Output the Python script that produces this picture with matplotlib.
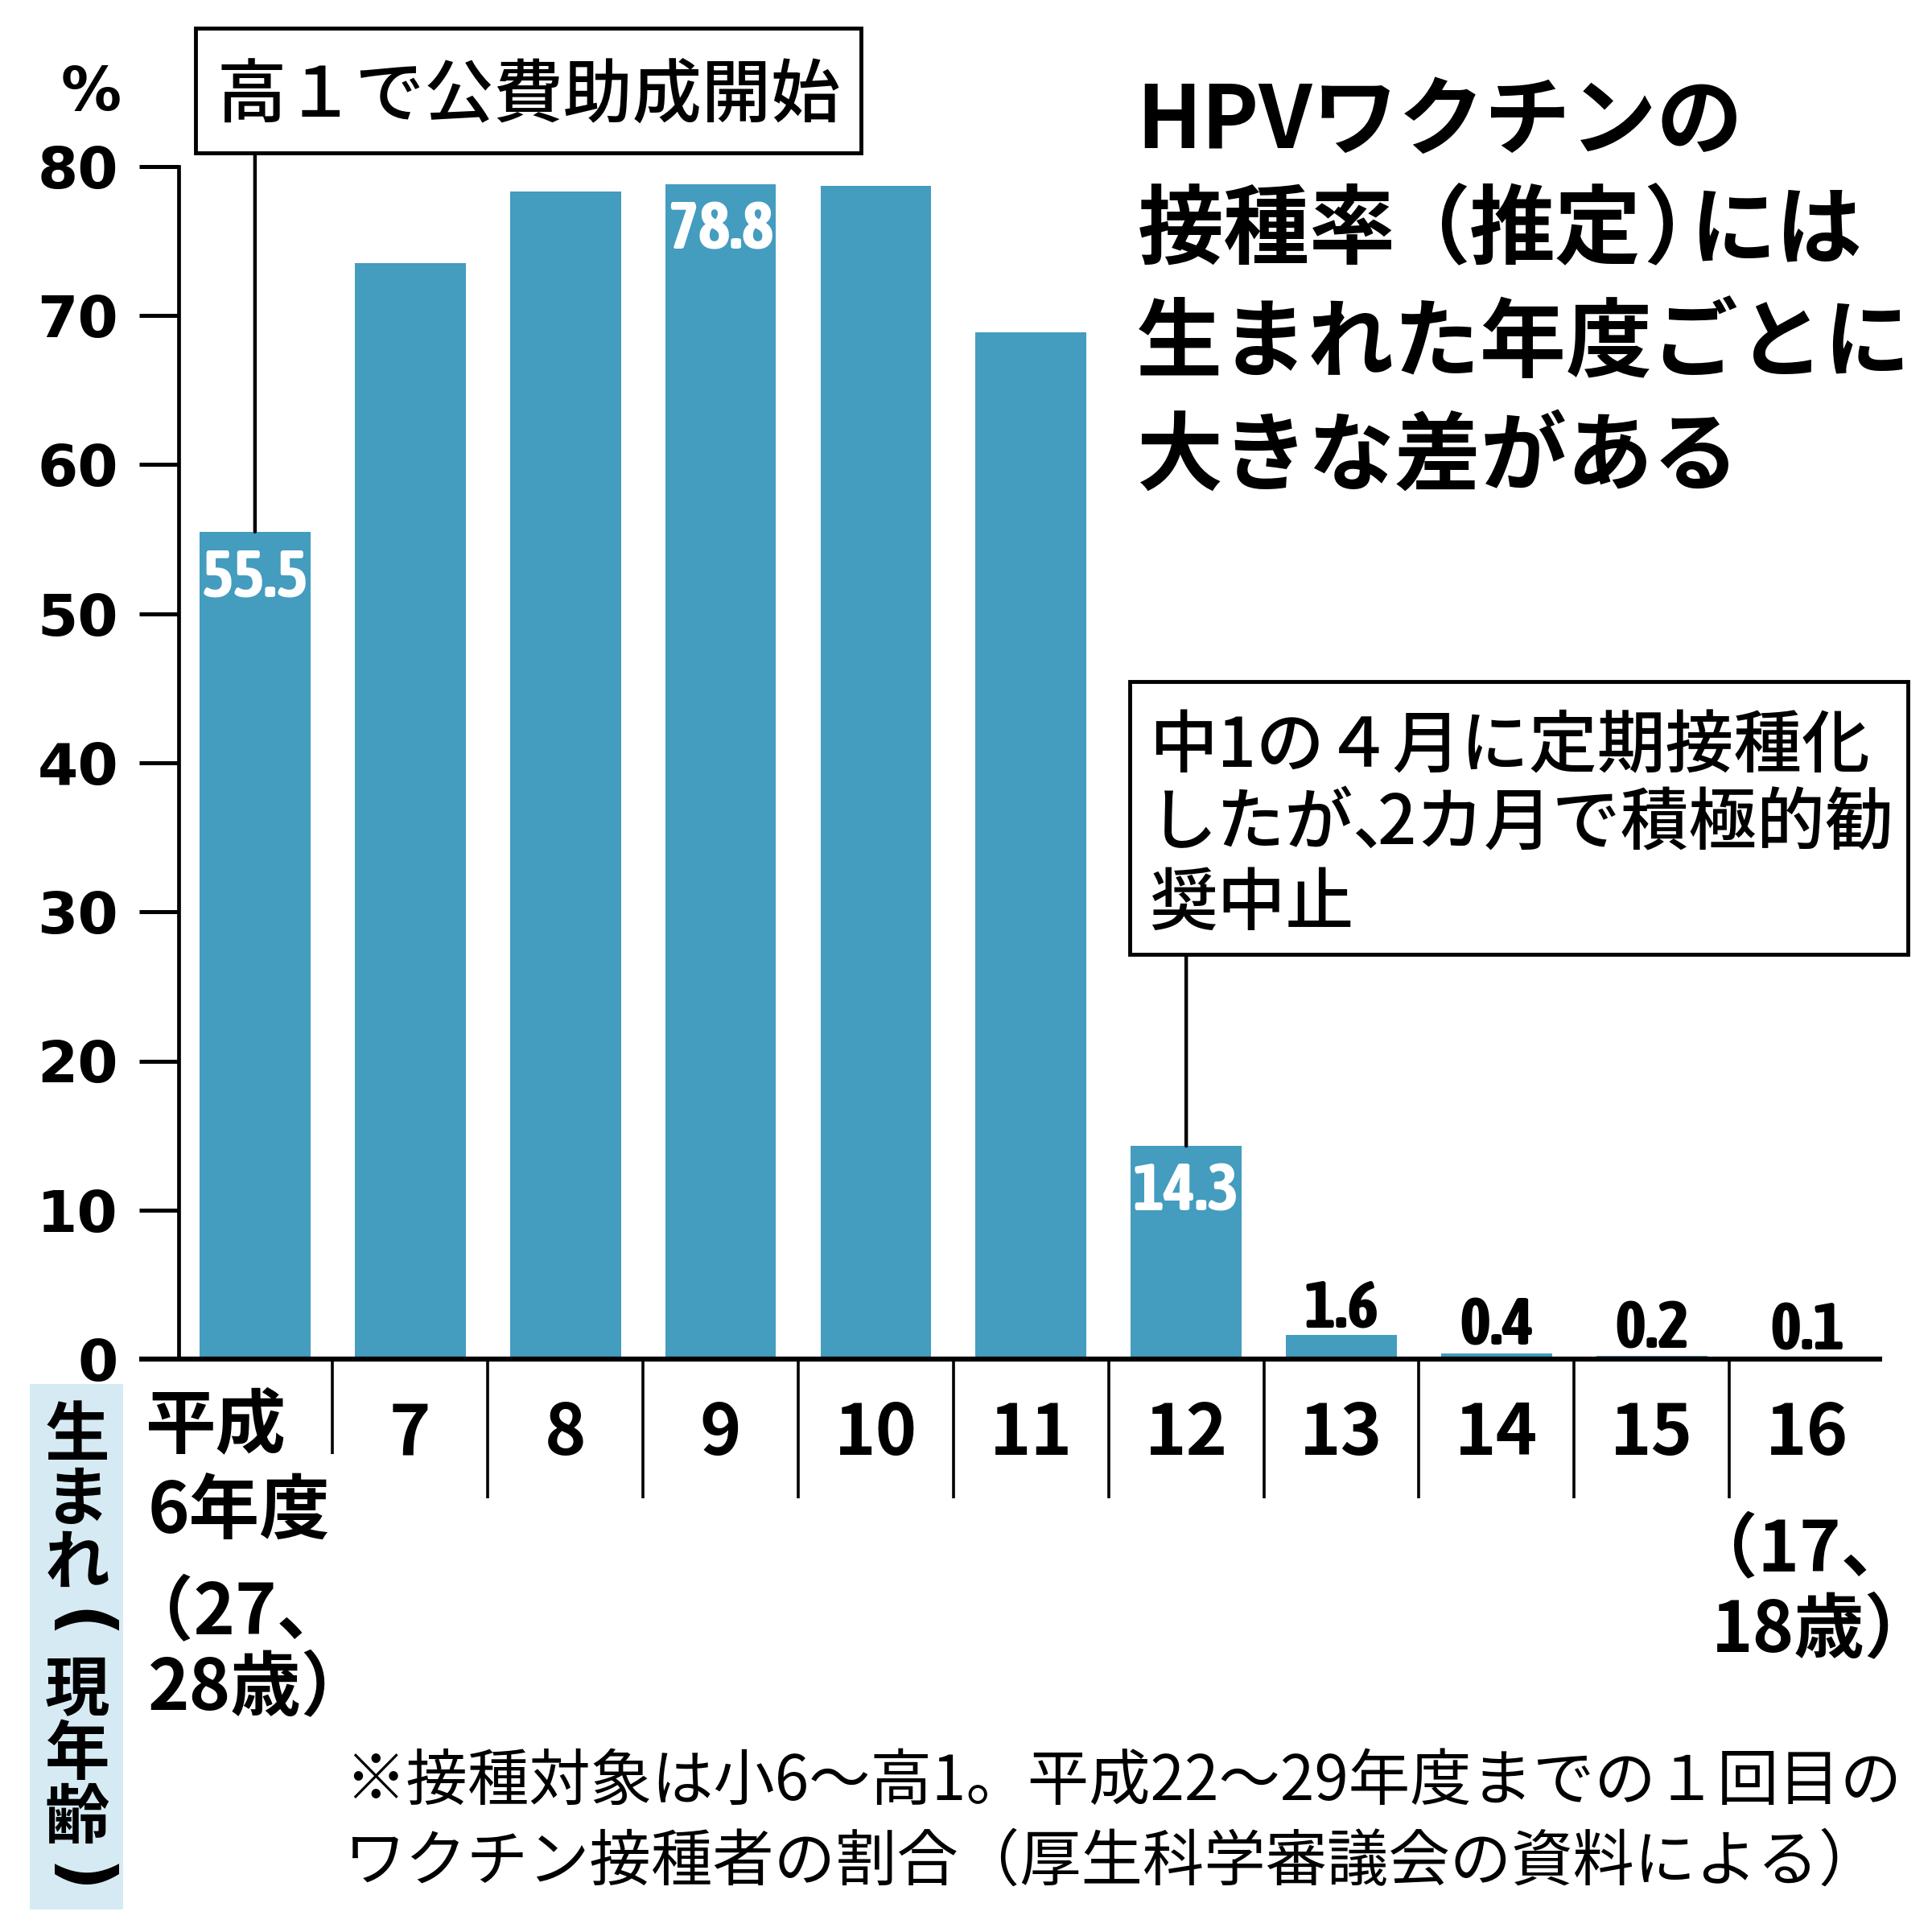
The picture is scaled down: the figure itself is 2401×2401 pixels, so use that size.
import matplotlib
matplotlib.use("Agg")
import matplotlib.pyplot as plt
import matplotlib.transforms as mtransforms
import matplotlib.font_manager as fm
from matplotlib.patches import Rectangle

# ---------------- data ----------------
birth_years = ["平成\n6年度", "7", "8", "9", "10", "11", "12", "13", "14", "15", "16"]
current_ages = ["（27、\n28歳）", "", "", "", "", "", "", "", "", "", "（17、\n18歳）"]
rates = [55.5, 73.5, 78.3, 78.8, 78.7, 68.9, 14.3, 1.6, 0.4, 0.2, 0.1]
value_labels = ["55.5", "", "", "78.8", "", "", "14.3", "1.6", "0.4", "0.2", "0.1"]
y_ticks = [0, 10, 20, 30, 40, 50, 60, 70, 80]
y_unit = "%"
title_lines = ["HPVワクチンの", "接種率（推定）には", "生まれた年度ごとに", "大きな差がある"]
note_start = "高１で公費助成開始"
note_stop = ["中1の４月に定期接種化", "したが、2カ月で積極的勧", "奨中止"]
ylabel_chars = ["生", "ま", "れ", "（", "現", "年", "齢", "）"]
footnote_lines = ["※接種対象は小6〜高1。平成22〜29年度までの１回目の",
                  "ワクチン接種者の割合（厚生科学審議会の資料による）"]

# ---------------- style ----------------
BAR = "#449cbf"
CJK = ["Noto Sans CJK JP", "DejaVu Sans"]
plt.rcParams["font.family"] = CJK


def _weight(f):
    w = f.weight
    if isinstance(w, str):
        w = fm.weight_dict.get(w, 400)
    return w


def find_condensed_bold():
    cands = []
    for f in fm.fontManager.ttflist:
        p = f.fname.lower()
        nm = f.name.lower()
        st = str(f.stretch).lower()
        is_cond = ("condensed" in p or "narrow" in p or "condensed" in nm
                   or "narrow" in nm or "condensed" in st)
        if not is_cond:
            continue
        if f.style != "normal" or "italic" in p or "oblique" in p:
            continue
        if "dejavu" in p or "mono" in p or "cjk" in p:
            continue
        pen = 2 if ("extra" in p or "ultra" in p or "semi" in p) else 0
        score = abs(_weight(f) - 700) / 100 + pen
        cands.append((score, f.fname))
    if cands:
        cands.sort()
        return cands[0][1]
    return None


_cond = find_condensed_bold()
if _cond:
    VAL_FP = dict(fontproperties=fm.FontProperties(fname=_cond, size=60))
else:
    VAL_FP = dict(fontproperties=fm.FontProperties(family="Liberation Sans", weight="bold", size=46))

W = H = 2401
def fx(x):
    return x / W
def fy(y):
    return 1 - y / H

fig = plt.figure(figsize=(W / 100, H / 100), dpi=100)
fig.patch.set_facecolor("white")

ax_left, ax_right, ax_top, ax_bottom = 222, 2339, 207, 1689
ax = fig.add_axes([fx(ax_left), fy(ax_bottom), (ax_right - ax_left) / W, (ax_bottom - ax_top) / H])

n = len(rates)
xs = list(range(n))
ax.bar(xs, rates, width=0.714, color=BAR, zorder=2)
ax.set_xlim(-0.492, n - 1 + 0.484)
ax.set_ylim(0, 80)

for s in ["top", "right", "bottom"]:
    ax.spines[s].set_visible(False)
ax.spines["left"].set_linewidth(3.4)
ax.set_xticks([])
ax.set_yticks(y_ticks)
ax.set_yticklabels([str(t) for t in y_ticks], fontfamily="DejaVu Sans", fontweight="bold", fontsize=52)
ax.tick_params(axis="y", direction="out", length=35, width=3.6, pad=19)

# baseline (extends under the 0 tick)
ax.plot([-(ax_left - 173) / (ax_right - ax_left), 1], [0, 0], transform=ax.transAxes,
        color="black", lw=4.5, clip_on=False, solid_capstyle="butt", zorder=3)

# percent unit
fig.text(fx(113), fy(117), y_unit, ha="center", va="center", fontsize=54,
         fontweight="bold", fontfamily="DejaVu Sans")

blend = mtransforms.blended_transform_factory(ax.transData, fig.transFigure)

# separators between categories
for i in range(n - 1):
    y_end = 1807 if i == 0 else 1862
    ax.plot([i + 0.5, i + 0.5], [fy(ax_bottom), fy(y_end)], transform=blend,
            color="black", lw=2.6, clip_on=False, solid_capstyle="butt")

# category labels
for i, lab in enumerate(birth_years):
    if "\n" in lab:
        l1, l2 = lab.split("\n")
        fig.text(fx(181), fy(1798), l1, ha="left", va="baseline", fontsize=63, fontweight="bold")
        fig.text(fx(184), fy(1906), l2, ha="left", va="baseline", fontsize=63, fontweight="bold")
    else:
        ax.text(i, fy(1808), lab, transform=blend, ha="center", va="baseline",
                fontsize=63, fontweight="bold")

# current age labels
for i, age in enumerate(current_ages):
    if not age:
        continue
    a1, a2 = age.split("\n")
    if i == 0:
        fig.text(fx(153), fy(2031), a1, ha="left", va="baseline", fontsize=63, fontweight="bold")
        fig.text(fx(184), fy(2125), a2, ha="left", va="baseline", fontsize=63, fontweight="bold")
    else:
        fig.text(fx(2097), fy(1953), a1, ha="left", va="baseline", fontsize=63, fontweight="bold")
        fig.text(fx(2127), fy(2053), a2, ha="left", va="baseline", fontsize=63, fontweight="bold")

# value labels
for i, (v, lab) in enumerate(zip(rates, value_labels)):
    if not lab:
        continue
    if v > 5:
        ax.annotate(lab, xy=(i, v), xytext=(0, -58), textcoords="offset points",
                    ha="center", va="baseline", color="white", zorder=4, **VAL_FP)
    else:
        ax.annotate(lab, xy=(i, v), xytext=(0, 7), textcoords="offset points",
                    ha="center", va="baseline", color="black", zorder=4, **VAL_FP)

# y label box (vertical text)
fig.patches.append(Rectangle((fx(37), fy(2373)), (153 - 37) / W, (2373 - 1720) / H,
                             transform=fig.transFigure, facecolor="#d6eaf3",
                             edgecolor="none", zorder=0))
for k, ch in enumerate(ylabel_chars):
    yc = 1786 + 79 * k
    if ch in "（）":
        paren = "(" if ch == "（" else ")"
        fig.text(fx(96), fy(yc - 4), paren, ha="center", va="center", rotation=-90,
                 fontsize=64, fontweight="bold", fontfamily="DejaVu Sans", zorder=2)
    else:
        fig.text(fx(96), fy(yc), ch, ha="center", va="center",
                 fontsize=58, fontweight="bold", zorder=2)

# title (line 2 set with tighter bracket spacing like the original)
title_base = [184, 319, 460, 601]
title_segments = {1: [("接種率", 1414), ("（", 1720), ("推定", 1826), ("）", 2042), ("には", 2100)]}
for k, line in enumerate(title_lines):
    segs = title_segments.get(k, [(line, 1412)])
    for seg, x0 in segs:
        fig.text(fx(x0), fy(title_base[k]), seg, ha="left", va="baseline",
                 fontsize=77, fontweight="bold")

# annotation box 1
fig.patches.append(Rectangle((fx(243), fy(190)), (1070 - 243) / W, (190 - 35) / H,
                             transform=fig.transFigure, facecolor="white",
                             edgecolor="black", lw=3.5, zorder=5))
fig.text(fx(657), fy(145), note_start, ha="center", va="baseline", fontsize=62,
         fontweight="medium", zorder=6)
ax.annotate("", xy=(0, rates[0]), xycoords="data", xytext=(0, fy(190)), textcoords=blend,
            arrowprops=dict(arrowstyle="-", lw=3.2, color="black", shrinkA=0, shrinkB=0))

# annotation box 2
fig.patches.append(Rectangle((fx(1404), fy(1186)), (2371 - 1404) / W, (1186 - 847) / H,
                             transform=fig.transFigure, facecolor="white",
                             edgecolor="black", lw=3.5, zorder=5))
stop_base = [953, 1049, 1149]
stop_segments = {1: [("したが", 1428), ("、", 1680), ("2カ月で積極的勧", 1712)]}
for k, line in enumerate(note_stop):
    segs = stop_segments.get(k, [(line, 1428)])
    for seg, x0 in segs:
        fig.text(fx(x0), fy(stop_base[k]), seg, ha="left", va="baseline",
                 fontsize=61, fontweight="medium", zorder=6)
ax.annotate("", xy=(6, rates[6]), xycoords="data", xytext=(6, fy(1186)), textcoords=blend,
            arrowprops=dict(arrowstyle="-", lw=3.2, color="black", shrinkA=0, shrinkB=0))

# footnote
for k, line in enumerate(footnote_lines):
    fig.text(fx(428), fy([2237, 2337][k]), line, ha="left", va="baseline",
             fontsize=55, fontweight="normal")

fig.savefig("out.png", dpi=100, facecolor="white")
